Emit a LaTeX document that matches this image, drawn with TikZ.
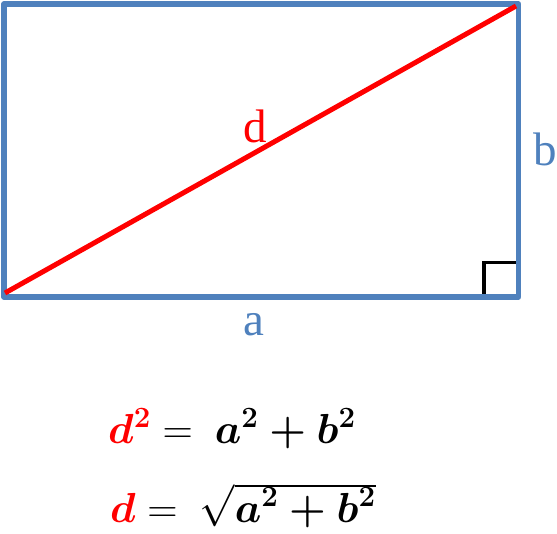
\documentclass[tikz,border=0pt]{standalone}
\usepackage{fix-cm}
\usepackage{amsmath}
\usepackage{fontspec}
\setmainfont{Liberation Serif}
\definecolor{rectblue}{RGB}{79,129,189}
\definecolor{diagred}{RGB}{255,0,0}

\begin{document}
\begin{tikzpicture}[x=1pt, y=-1pt,
	side/.style={draw=rectblue, line width=5.5pt, line join=round},
	diag/.style={draw=diagred, line width=5pt},
	corner/.style={draw=black, line width=3.5pt},
	lab/.style={inner sep=0pt, font=\fontsize{47}{56}\selectfont},
	eqn/.style={inner sep=0pt, anchor=base west, font=\fontsize{42}{48}\selectfont}]
		\useasboundingbox (0,0) rectangle (557,533);
		\coordinate (1) at (4,297);
		\coordinate (2) at (518.5,297);
		\coordinate (3) at (518.5,4);
		\coordinate (4) at (4,4);
		\coordinate (5) at (484,297);
		\coordinate (6) at (484,262.5);
		\coordinate (7) at (518.5,262.5);
		\coordinate (8) at (5,293);
		\coordinate (9) at (516,6);

		\draw[corner] (5) -- (6) -- (7);
		\draw[side] (1) -- (2) -- (3) -- (4) -- cycle;
		\draw[diag] (8) -- (9);

		\node[lab, text=diagred] (d) at (255,126) {d};
		\node[lab, text=rectblue] (b) at (545.5,149) {b};
		\node[lab, text=rectblue] (a) at (254,324.5) {a};

		\node[eqn] (eq1) at (108,443) {$\boldsymbol{\color{diagred}d^{\color{diagred}2}} = \ \boldsymbol{a^2 + b^2}$};
		\node[eqn] (eq2) at (110,522) {$\boldsymbol{\color{diagred}d} = \ \sqrt{\boldsymbol{a^2 + b^2}}$};
	\end{tikzpicture}
\end{document}
